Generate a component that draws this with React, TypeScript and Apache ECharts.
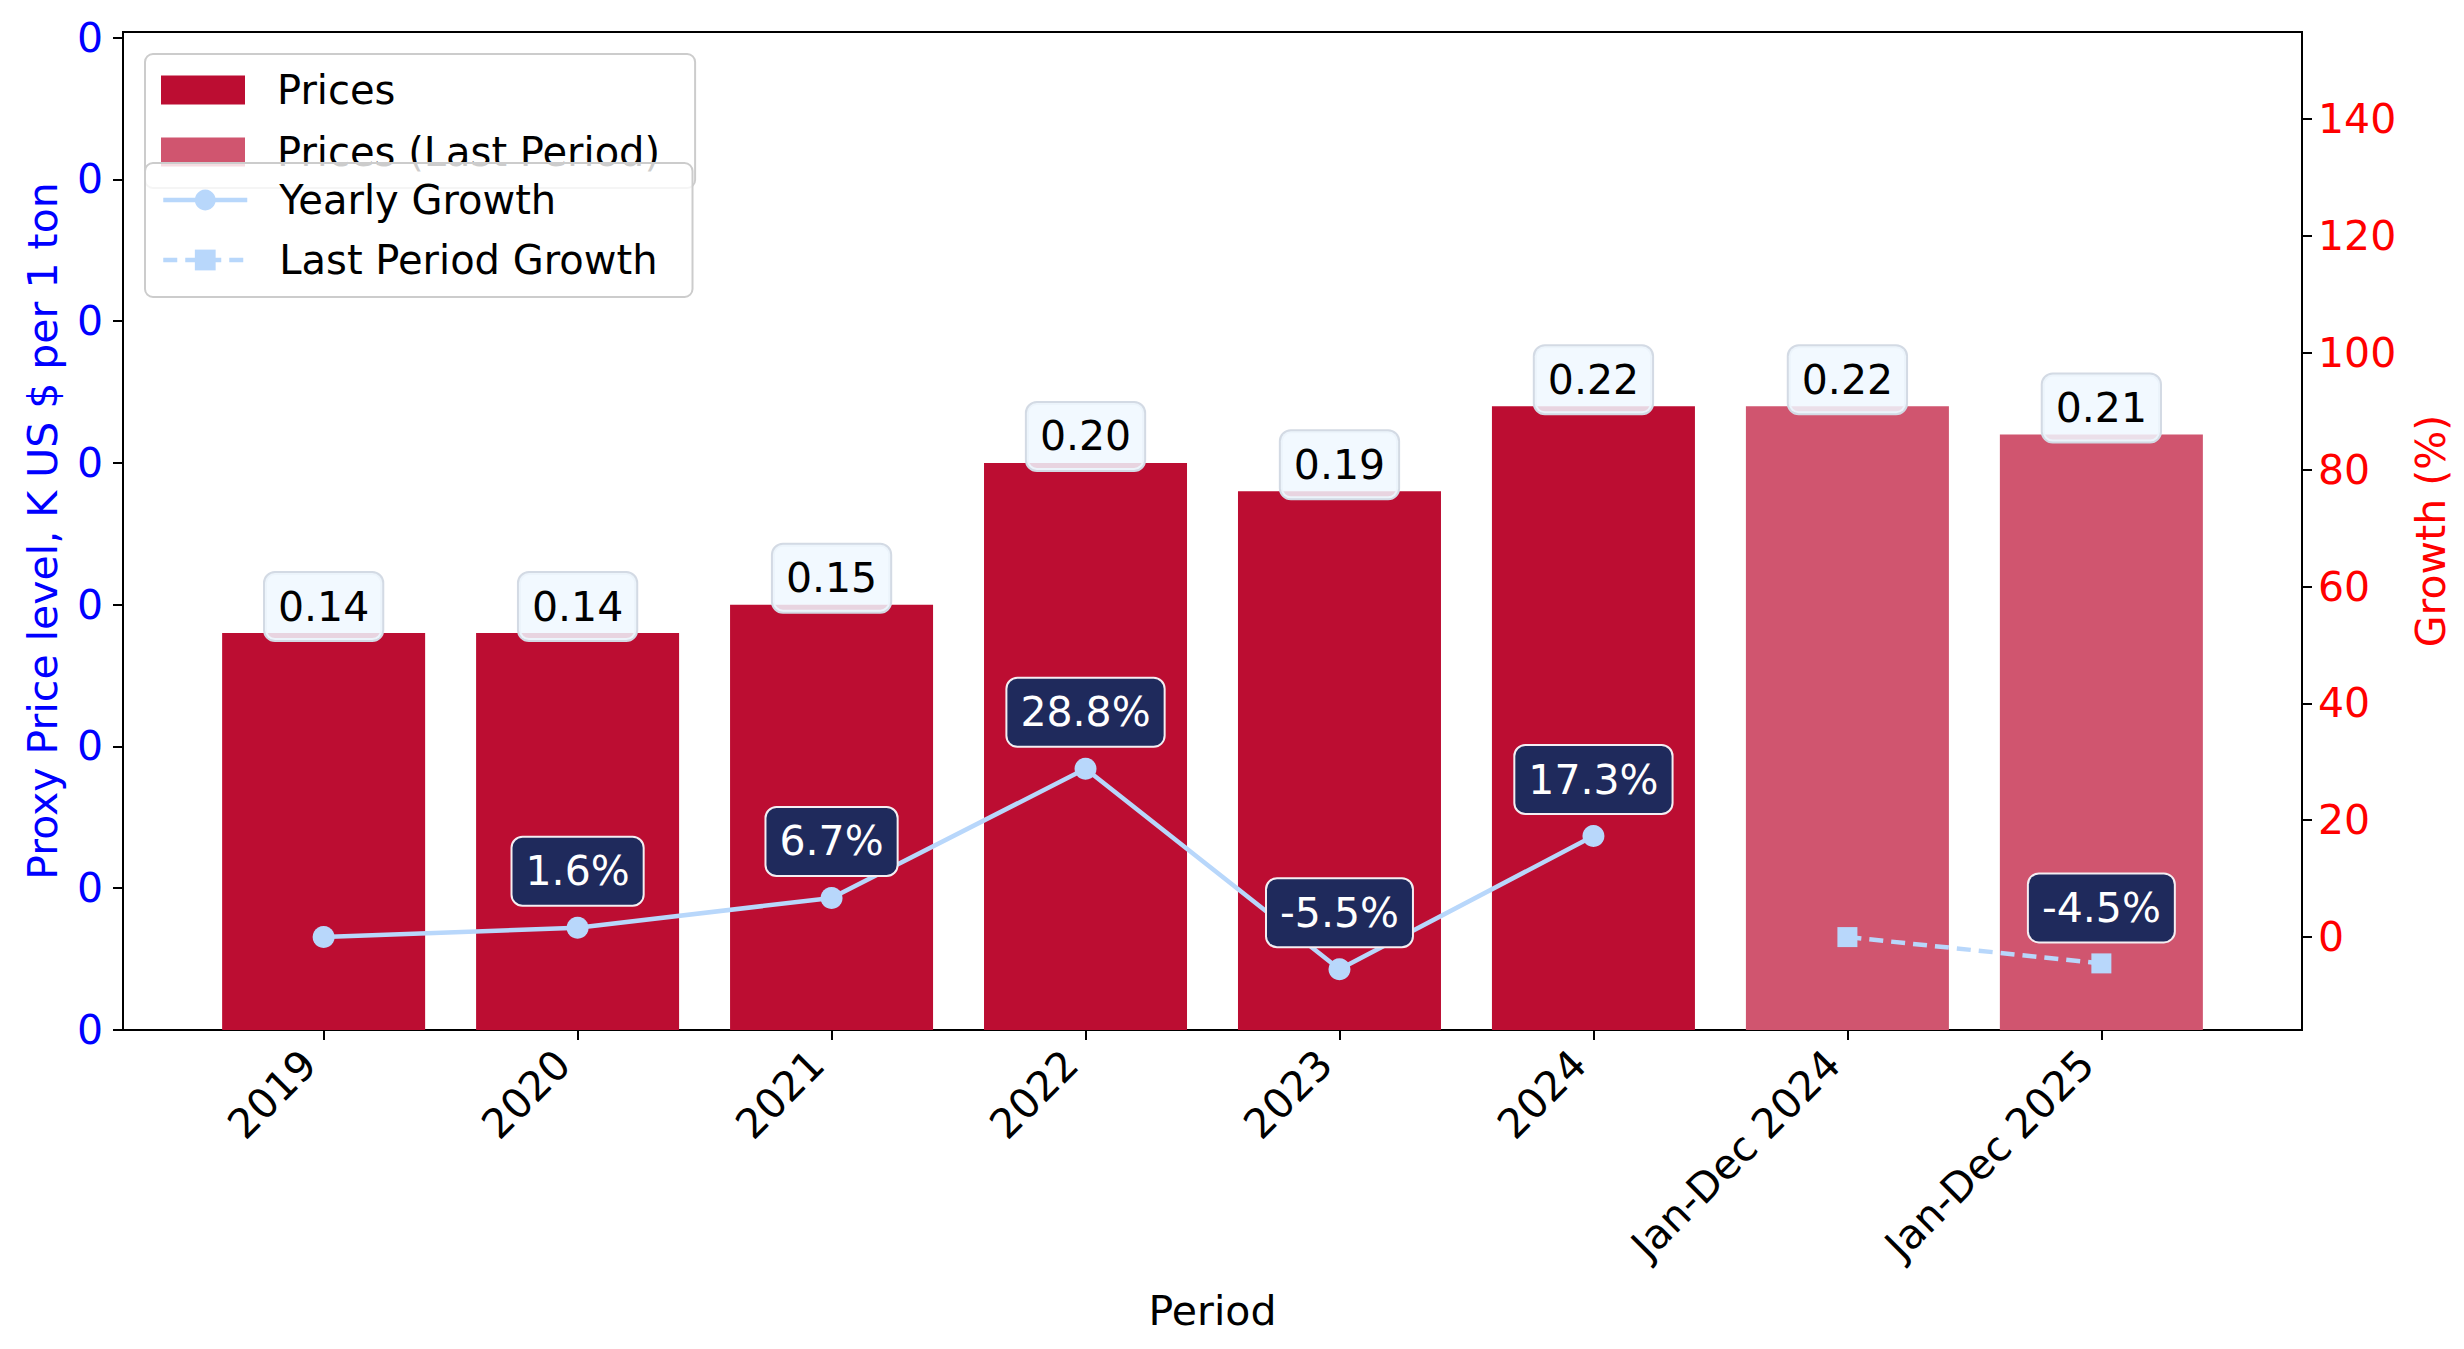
import React, { useEffect, useRef } from "react";
import * as echarts from "echarts";

const categories = ["2019", "2020", "2021", "2022", "2023", "2024", "Jan-Dec 2024", "Jan-Dec 2025"];
const yearlyPrices = [0.14, 0.14, 0.15, 0.2, 0.19, 0.22];
const lastPeriodPrices = [0.22, 0.21];
const yearlyGrowth = [0, 1.6, 6.7, 28.8, -5.5, 17.3];
const lastPeriodGrowth = [0, -4.5];
const leftTicks = [0, 0.05, 0.1, 0.15, 0.2, 0.25, 0.3, 0.35];
const rightTicks = [0, 20, 40, 60, 80, 100, 120, 140];

const FONT = "DejaVu Sans";
const BAR = "#bc0d32";
const BAR_LAST = "#d0556f";
const LINE = "#b8d7fb";
const NAVY = "#1f2a5c";

export default function App() {
  const ref = useRef<HTMLDivElement>(null);
  useEffect(() => {
    if (!ref.current) return;
    const chart = echarts.init(ref.current, null, { renderer: "svg" });
    const nYear = yearlyPrices.length;
    const catIdx = categories.map((_, i) => i);
    const barLabel = {
      show: true,
      position: "top",
      distance: -7,
      formatter: (p: any) => Number(p.value[1]).toFixed(2),
      fontFamily: FONT,
      fontSize: 41,
      color: "#000",
      backgroundColor: "rgba(240,248,255,0.85)",
      borderColor: "#d3dae4",
      borderWidth: 2,
      borderRadius: 10,
      padding: [13, 13, 13, 13],
    };
    const growthLabel = {
      show: true,
      position: "top",
      distance: 12,
      formatter: (p: any) => Number(p.value[1]).toFixed(1) + "%",
      fontFamily: FONT,
      fontSize: 41,
      color: "#fff",
      backgroundColor: NAVY,
      borderColor: "#f4eef2",
      borderWidth: 2,
      borderRadius: 10,
      padding: [13, 13, 13, 13],
    };
    const option: any = {
      animation: false,
      backgroundColor: "#fff",
      grid: {
        left: 123,
        right: 162,
        top: 32,
        bottom: 319,
        show: true,
        borderColor: "#000",
        borderWidth: 2,
        backgroundColor: "transparent",
      },
      legend: [
        {
          data: [
            { name: "Prices", icon: "rect" },
            { name: "Prices (Last Period)", icon: "rect" },
          ],
          orient: "vertical",
          left: 145,
          top: 54,
          itemWidth: 84,
          itemHeight: 29,
          itemGap: 22,
          padding: [16, 35, 16, 16],
          backgroundColor: "rgba(255,255,255,0.8)",
          borderColor: "#cccccc",
          borderWidth: 2,
          borderRadius: 8,
          textStyle: { fontFamily: FONT, fontSize: 40, color: "#000", padding: [0, 0, 0, 27] },
          z: 10,
        },
        {
          data: ["Yearly Growth", "Last Period Growth"],
          orient: "vertical",
          left: 145,
          top: 163,
          itemWidth: 84,
          itemHeight: 26,
          itemGap: 20,
          padding: [17, 35, 17, 16],
          lineStyle: { width: 4.5 },
          backgroundColor: "rgba(255,255,255,0.8)",
          borderColor: "#cccccc",
          borderWidth: 2,
          borderRadius: 8,
          textStyle: { fontFamily: FONT, fontSize: 40, color: "#000", padding: [0, 0, 0, 27] },
          z: 11,
        },
      ],
      xAxis: {
        type: "value",
        min: -0.79,
        max: 7.79,
        name: "Period",
        nameLocation: "middle",
        nameGap: 260,
        nameTextStyle: { fontFamily: FONT, fontSize: 41, color: "#000" },
        axisLine: { show: true, onZero: false, lineStyle: { color: "#000", width: 2 } },
        axisTick: { show: true, length: 10, lineStyle: { color: "#000", width: 2 }, customValues: catIdx },
        axisLabel: {
          customValues: catIdx,
          rotate: 45,
          margin: 42,
          verticalAlign: "bottom",
          fontFamily: FONT,
          fontSize: 41,
          color: "#000",
          formatter: (v: number) => categories[Math.round(v)],
        },
        splitLine: { show: false },
      },
      yAxis: [
        {
          type: "value",
          min: 0,
          max: 0.352,
          position: "left",
          name: "Proxy Price level, K US $ per 1 ton",
          nameLocation: "middle",
          nameRotate: 90,
          nameGap: 60,
          nameTextStyle: { fontFamily: FONT, fontSize: 41, color: "#0000ff" },
          axisLine: { show: true, onZero: false, lineStyle: { color: "#000", width: 2 } },
          axisTick: { show: true, length: 10, lineStyle: { color: "#000", width: 2 }, customValues: leftTicks },
          axisLabel: {
            customValues: leftTicks,
            margin: 20,
            fontFamily: FONT,
            fontSize: 41,
            color: "#0000ff",
            formatter: (v: number) => String(Math.round(v)),
          },
          splitLine: { show: false },
        },
        {
          type: "value",
          min: -15.9,
          max: 154.9,
          position: "right",
          name: "Growth (%)",
          nameLocation: "middle",
          nameRotate: 90,
          nameGap: 108,
          nameTextStyle: { fontFamily: FONT, fontSize: 41, color: "#ff0000" },
          axisLine: { show: true, onZero: false, lineStyle: { color: "#000", width: 2 } },
          axisTick: { show: true, length: 10, lineStyle: { color: "#000", width: 2 }, customValues: rightTicks },
          axisLabel: {
            customValues: rightTicks,
            margin: 16,
            fontFamily: FONT,
            fontSize: 41,
            color: "#ff0000",
            formatter: (v: number) => String(Math.round(v)),
          },
          splitLine: { show: false },
        },
      ],
      series: [
        {
          name: "Prices",
          type: "bar",
          yAxisIndex: 0,
          barWidth: 203,
          barGap: "-100%",
          itemStyle: { color: BAR },
          data: yearlyPrices.map((v, i) => [i, v]),
          label: barLabel,
          z: 2,
        },
        {
          name: "Prices (Last Period)",
          type: "bar",
          yAxisIndex: 0,
          barWidth: 203,
          barGap: "-100%",
          itemStyle: { color: BAR_LAST },
          data: lastPeriodPrices.map((v, i) => [nYear + i, v]),
          label: barLabel,
          z: 2,
        },
        {
          name: "Yearly Growth",
          type: "line",
          yAxisIndex: 1,
          symbol: "circle",
          symbolSize: 22,
          lineStyle: { color: LINE, width: 4.5 },
          itemStyle: { color: LINE },
          data: yearlyGrowth.map((v, i) =>
            i === 0 ? { value: [i, v], label: { show: false } } : { value: [i, v] }
          ),
          label: growthLabel,
          z: 3,
        },
        {
          name: "Last Period Growth",
          type: "line",
          yAxisIndex: 1,
          symbol: "rect",
          symbolSize: 20,
          lineStyle: { color: LINE, width: 4.5, type: [14, 8] },
          itemStyle: { color: LINE },
          data: lastPeriodGrowth.map((v, i) =>
            i === 0 ? { value: [nYear + i, v], label: { show: false } } : { value: [nYear + i, v] }
          ),
          label: growthLabel,
          z: 3,
        },
      ],
    };
    chart.setOption(option);
    return () => chart.dispose();
  }, []);
  return (
    <div
      ref={ref}
      style={{ position: "fixed", left: 0, top: 0, width: 2464, height: 1349, background: "#fff" }}
    />
  );
}
